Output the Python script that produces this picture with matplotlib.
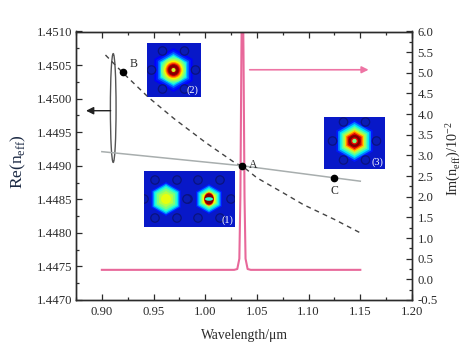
import matplotlib
matplotlib.use('Agg')
import matplotlib.pyplot as plt
from matplotlib.patches import Ellipse, RegularPolygon, Circle
from matplotlib.ticker import MultipleLocator, FormatStrFormatter

plt.rcParams['font.family'] = ['Liberation Serif', 'DejaVu Serif']
plt.rcParams['mathtext.fontset'] = 'custom'
plt.rcParams['mathtext.rm'] = 'Liberation Serif'

# dashed curve, left axis
dash_x = [0.9035, 0.92, 0.945, 0.97, 1.00, 1.03, 1.0355, 1.05, 1.075, 1.095, 1.125, 1.15]
dash_y = [1.45065, 1.45039, 1.45002, 1.44970, 1.44935, 1.44903, 1.44900, 1.44882, 1.44860, 1.44842, 1.44820, 1.44800]
# grey line, left axis
grey_x = [0.90, 1.0355, 1.125, 1.15]
grey_y = [1.44921, 1.44900, 1.44882, 1.44877]
# labelled points
pts_x = [1.0355, 0.92, 1.125]
pts_y = [1.44900, 1.45039, 1.44882]
# pink loss peak, right axis
loss_x = [0.90, 1.00, 1.028, 1.031, 1.033, 1.034, 1.035, 1.036, 1.037, 1.038, 1.039, 1.041, 1.044, 1.10, 1.15]
loss_y = [0.23, 0.23, 0.23, 0.25, 0.5, 2.0, 5.5, 8.0, 5.5, 2.0, 0.5, 0.25, 0.23, 0.23, 0.23]

xticks = [0.90, 0.95, 1.00, 1.05, 1.10, 1.15, 1.20]

# inset field levels: radius in px and jet value, outermost first
mode2 = [(22, .11), (20, .15), (18, .22), (16, .32), (14.5, .40), (12.5, .48), (11, .55),
         (9.5, .65), (8, .75), (7, .85), (6, .95), (5, 1.0), (3, .95), (2, .60)]
mode3 = [(21, .15), (19, .25), (17, .35), (15, .45), (13, .55), (11, .68), (9.5, .80),
         (8, .92), (6, 1.0), (3.5, .90), (2.2, .50)]
mode1a = [(17, .15), (15.5, .25), (14, .35), (12.5, .42), (10.5, .50), (8, .57), (5, .63)]
mode1b = [(15, .15), (13.5, .25), (12, .35), (10.5, .42), (9, .52), (7.5, .64)]


def draw_mode(a, cx, cy, levels, round_below=6.9):
    for r, v in levels:
        if r > round_below:
            a.add_patch(RegularPolygon((cx, cy), 6, radius=r, color=plt.cm.jet(v), lw=0))
        else:
            a.add_patch(Circle((cx, cy), r, color=plt.cm.jet(v), lw=0))


def draw_holes(a, cx, cy):
    for dx, dy in [(-11, -19), (11, -19), (-22, 0), (22, 0), (-11, 19), (11, 19)]:
        a.add_patch(Circle((cx + dx, cy + dy), 4.2, fc='#0a1cb4', ec='#0a1280', lw=0.9))


def inset(x0, y0, x1, y1, label):
    # pixel box of the inset, y measured from the top of the picture
    a = fig.add_axes([x0 / W, 1 - y1 / H, (x1 - x0) / W, (y1 - y0) / H])
    a.set_xlim(x0, x1)
    a.set_ylim(y1, y0)
    a.set_facecolor('#0818c8')
    a.set_xticks([])
    a.set_yticks([])
    for s in a.spines.values():
        s.set_visible(False)
    a.text(x1 - 2, y1 - 2, label, color='white', fontsize=7.5, ha='right', va='bottom')
    return a


W, H = 474, 355
fig = plt.figure(figsize=(W / 100, H / 100), dpi=100)
ax = fig.add_axes([76 / W, 1 - 300 / H, (412 - 76) / W, (300 - 31.5) / H])
ax2 = ax.twinx()
ax.set_zorder(ax2.get_zorder() + 1)
ax.patch.set_visible(False)

dark = '#2b2b2b'
ax.plot(dash_x, dash_y, color='#444444', lw=1.0, ls=(0, (3.5, 3)))
ax.plot(grey_x, grey_y, color='#a8aeae', lw=1.1)
ax.plot(pts_x, pts_y, 'o', color='black', ms=4.5, zorder=5)
ax2.plot(loss_x, loss_y, color='#e8689a', lw=1.5)

ax.set_xlim(0.875, 1.20)
ax.set_ylim(1.4470, 1.4510)
ax2.set_ylim(-0.5, 6.0)
ax.set_xticks(xticks)
ax.xaxis.set_major_formatter(FormatStrFormatter('%.2f'))
ax.xaxis.set_minor_locator(MultipleLocator(0.025))
ax.yaxis.set_major_locator(MultipleLocator(0.0005))
ax.yaxis.set_minor_locator(MultipleLocator(0.00025))
ax.yaxis.set_major_formatter(FormatStrFormatter('%.4f'))
ax2.yaxis.set_major_locator(MultipleLocator(0.5))
ax2.yaxis.set_minor_locator(MultipleLocator(0.25))
ax2.yaxis.set_major_formatter(FormatStrFormatter('%.1f'))

ax.tick_params(axis='x', which='both', direction='in', top=True, color=dark, labelcolor=dark, labelsize=9.2, pad=4)
ax.tick_params(axis='y', which='both', direction='in', color=dark, labelcolor=dark, labelsize=9.2, pad=3)
ax2.tick_params(axis='y', which='both', direction='in', color=dark, labelcolor=dark, labelsize=9.2, pad=4)
for a in (ax, ax2):
    a.tick_params(which='major', length=4, width=0.9)
    a.tick_params(which='minor', length=2, width=0.9)
    for s in a.spines.values():
        s.set_color(dark)
        s.set_linewidth(1.0)

ax.set_xlabel('Wavelength/\u03bcm', fontsize=9.8, color=dark)
ax.xaxis.set_label_coords(0.5, -0.108)
ax.set_ylabel(r'Re(n$_{\mathrm{eff}}$)', fontsize=12.5, color='#1c2a44')
ax.yaxis.set_label_coords(-0.143, 0.516)
ax2.set_ylabel(r'Im(n$_{\mathrm{eff}}$)/10$^{-2}$', fontsize=10.3, color=dark)
ax2.yaxis.set_label_coords(1.091, 0.527)

# ellipse and direction arrows
ax.add_patch(Ellipse((0.911, 1.44986), 0.0055, 0.00162, fc='none', ec='#555555', lw=1.0))
ax.annotate('', xy=(0.8847, 1.44982), xytext=(0.9085, 1.44982),
            arrowprops=dict(arrowstyle='-|>', color='#222222', lw=1.0, mutation_scale=11, shrinkA=0, shrinkB=0))
ax.annotate('', xy=(1.158, 1.45043), xytext=(1.043, 1.45043),
            arrowprops=dict(arrowstyle='-|>', color='#ee74a4', lw=1.2, mutation_scale=10, shrinkA=0, shrinkB=0), zorder=6)

ax.text(1.0425, 1.44901, 'A', fontsize=8.5, color=dark, va='center', zorder=7)
ax.text(0.9265, 1.45052, 'B', fontsize=8.5, color=dark, va='center')
ax.text(1.125, 1.44862, 'C', fontsize=8.5, color=dark, va='center', ha='center')

a = inset(146.5, 43, 200.5, 97, '(2)')
draw_mode(a, 173.5, 70, mode2, round_below=13)
draw_holes(a, 173.5, 70)

a = inset(144, 171, 235, 227, '(1)')
draw_mode(a, 166, 199, mode1a)
draw_mode(a, 209, 199, mode1b)
a.add_patch(Ellipse((209, 199), 10, 13, color=plt.cm.jet(0.88), lw=0))
a.add_patch(Ellipse((209, 199), 9, 11, color=plt.cm.jet(1.0), lw=0))
a.add_patch(Ellipse((209, 199), 8, 3.5, color=plt.cm.jet(0.4), lw=0))
for cx in (166, 209):
    draw_holes(a, cx, 199)

a = inset(324, 117, 385, 169, '(3)')
draw_mode(a, 354.5, 141, mode3)
draw_holes(a, 354.5, 141)

fig.savefig('out.png', dpi=100)
